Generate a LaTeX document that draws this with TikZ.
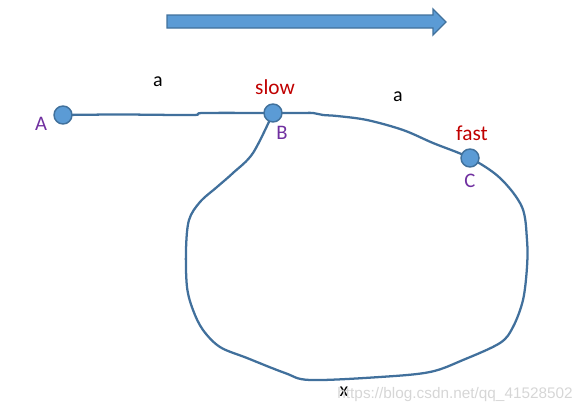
\documentclass[tikz,border=0pt]{standalone}
\usepackage{fontspec}
\setmainfont{Carlito}
\newfontfamily\markfont{Liberation Sans}

\definecolor{ptfill}{HTML}{5B9BD5}
\definecolor{ptline}{HTML}{41719C}
\definecolor{trackcol}{HTML}{41709C}
\definecolor{rolered}{HTML}{C00000}
\definecolor{namepurple}{HTML}{7030A0}

\tikzset{
    pt/.style={circle, draw=ptline, fill=ptfill, line width=1.1pt, minimum size=13.5pt, inner sep=0pt},
    track/.style={draw=trackcol, line width=1.7pt, line join=round},
    ptname/.style={text=namepurple, font=\fontsize{15.5}{16}\selectfont, inner sep=0pt},
    rolename/.style={text=rolered, font=\fontsize{16}{17}\selectfont, inner sep=0pt},
    dist/.style={text=black, font=\fontsize{15}{16}\selectfont, inner sep=0pt}
}

\begin{document}
\begin{tikzpicture}[x=0.75pt, y=-0.75pt]
    \useasboundingbox (0, 0) rectangle (583, 414);

    % direction of travel
    \draw[draw=ptline, fill=ptfill, line width=1pt, line join=miter]
        (167, 15) -- (433, 15) -- (433, 9) -- (446, 22) -- (433, 35) -- (433, 28) -- (167, 28) -- cycle;

    % the points
    \coordinate (A) at (63, 115);
    \coordinate (B) at (273, 113);
    \coordinate (C) at (470, 158);

    % straight part
    \draw[track] plot[smooth, tension=0.5] coordinates {(A) (120, 114.5) (193, 115) (203, 113) (B)};
    % loop
    \draw[track] plot[smooth, tension=0.55] coordinates {
        (B) (300, 113) (313, 113) (323, 115) (337, 116) (367, 120) (403, 130) (433, 143) (C)
        (500, 178) (522, 207) (527, 240) (527, 267) (523, 300) (513, 327) (500, 343)
        (463, 360) (430, 372) (380, 377) (310, 380) (285, 373) (247, 358) (220, 347)
        (203, 330) (193, 310) (187, 287) (186, 250) (189, 220) (200, 202) (217, 187) (233, 173)
        (253, 153) (B)};

    \node[pt] (ptA) at (A) {};
    \node[pt] (ptB) at (B) {};
    \node[pt] (ptC) at (C) {};

    % labels
    \node[ptname] (nameA) at (41, 124) {A};
    \node[ptname] (nameB) at (282, 133) {B};
    \node[ptname] (nameC) at (470, 181) {C};
    \node[rolename] (slow) at (275, 87) {slow};
    \node[rolename] (fast) at (472, 133) {fast};
    \node[dist] (distAB) at (158, 82) {a};
    \node[dist] (distBC) at (398, 97) {a};
    \node[dist] (distx) at (344, 392) {x};

    \node[text=black!16, font=\markfont\fontsize{11.5}{12}\selectfont, inner sep=0pt, anchor=east] (mark) at (573, 395) {https://blog.csdn.net/qq\_41528502};
\end{tikzpicture}
\end{document}
